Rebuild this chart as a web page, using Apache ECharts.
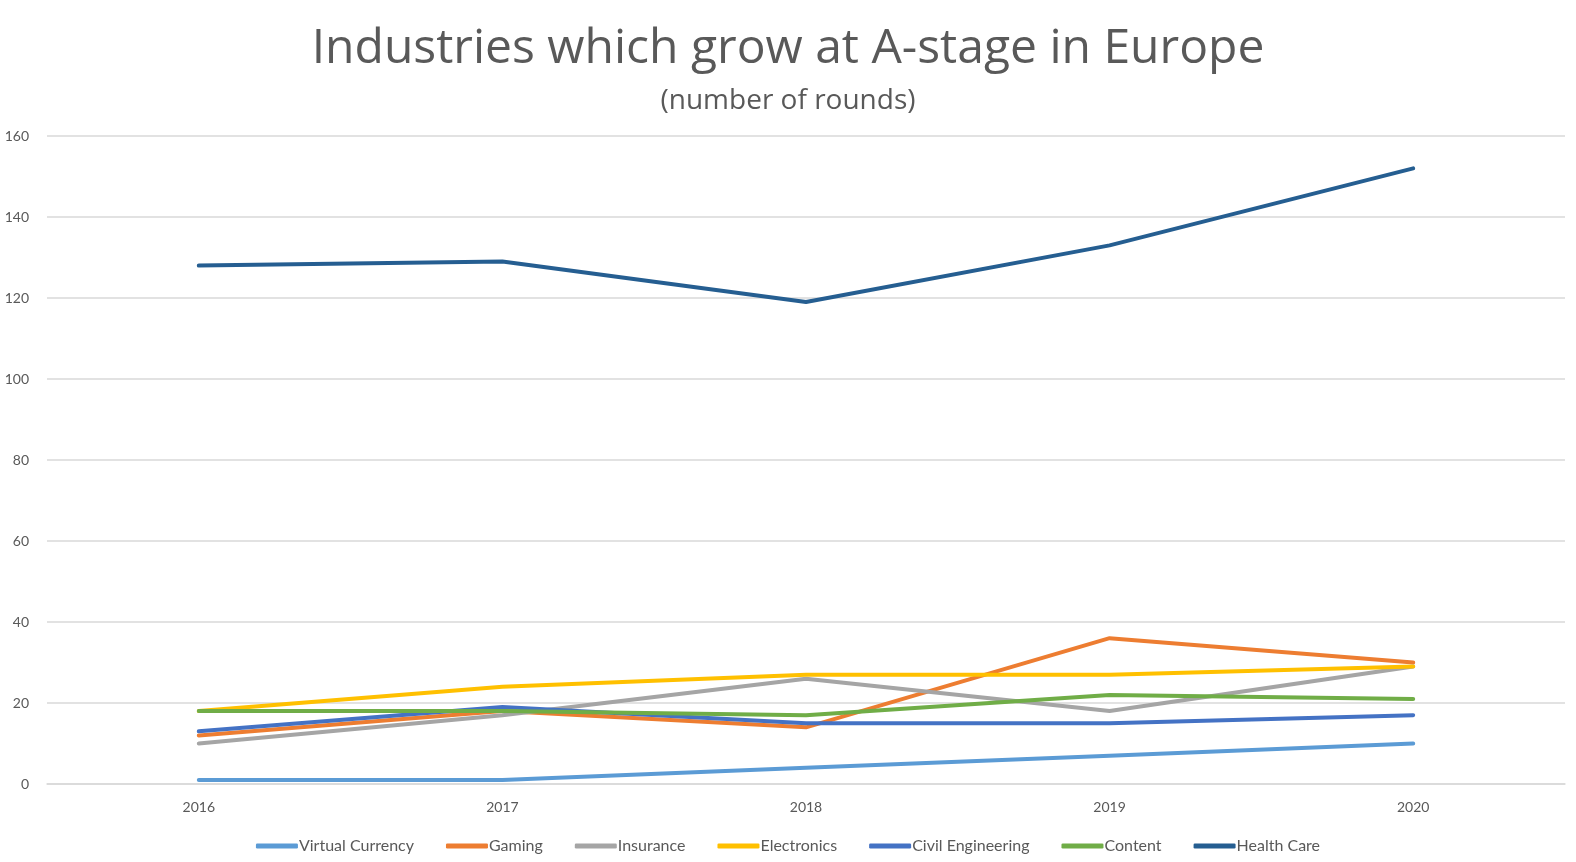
<!DOCTYPE html>
<html>
<head>
<meta charset="utf-8">
<script src="https://cdn.jsdelivr.net/npm/echarts@6/dist/echarts.min.js"></script>
<style>
  html, body { margin: 0; padding: 0; background: #fff; }
  #chart { width: 1576px; height: 862px; }
</style>
</head>
<body>
<div id="chart"></div>
<script>
// categories
const years = ['2016', '2017', '2018', '2019', '2020']

// series values
const virtualCurrency = [1, 1, 4, 7, 10]
const gaming = [12, 18, 14, 36, 30]
const insurance = [10, 17, 26, 18, 29]
const electronics = [18, 24, 27, 27, 29]
const civilEngineering = [13, 19, 15, 15, 17]
const content = [18, 18, 17, 22, 21]
const healthCare = [128, 129, 119, 133, 152]

const seriesNames = ['Virtual Currency', 'Gaming', 'Insurance', 'Electronics', 'Civil Engineering', 'Content', 'Health Care']
const seriesData = [virtualCurrency, gaming, insurance, electronics, civilEngineering, content, healthCare]
const colors = ['#5B9BD5', '#ED7D31', '#A5A5A5', '#FFC000', '#4472C4', '#70AD47', '#255E91']

const chart = echarts.init(document.getElementById('chart'))

chart.setOption({
  color: colors,
  title: {
    text: 'Industries which grow at A-stage in Europe',
    subtext: '(number of rounds)',
    left: 'center',
    top: 20,
    itemGap: 14,
    textStyle: { fontFamily: 'Open Sans', fontSize: 48, fontWeight: 'normal', color: '#595959' },
    subtextStyle: { fontFamily: 'Open Sans', fontSize: 28, color: '#595959' }
  },
  legend: {
    bottom: 3,
    left: 'center',
    icon: 'roundRect',
    itemWidth: 42,
    itemHeight: 5,
    itemGap: 32,
    textStyle: { fontFamily: 'Lato', fontSize: 16, color: '#595959', padding: [0, 0, 0, -4] },
    data: seriesNames
  },
  grid: { left: 47, right: 11, top: 136, bottom: 78 },
  xAxis: {
    type: 'category',
    data: years,
    axisLine: { lineStyle: { color: '#D9D9D9', width: 1.5 } },
    axisTick: { show: false },
    axisLabel: { fontFamily: 'Lato', fontSize: 14, color: '#595959', margin: 16 }
  },
  yAxis: {
    type: 'value',
    min: 0,
    max: 160,
    interval: 20,
    axisLine: { show: false },
    axisTick: { show: false },
    axisLabel: { fontFamily: 'Lato', fontSize: 14, color: '#595959', margin: 18 },
    splitLine: { lineStyle: { color: '#D9D9D9', width: 1.5 } }
  },
  series: seriesNames.map((name, i) => ({
    name: name,
    type: 'line',
    data: seriesData[i],
    showSymbol: false,
    symbol: 'none',
    lineStyle: { width: 4, cap: 'round', join: 'round' },
    emphasis: { disabled: true }
  }))
})
</script>
</body>
</html>
